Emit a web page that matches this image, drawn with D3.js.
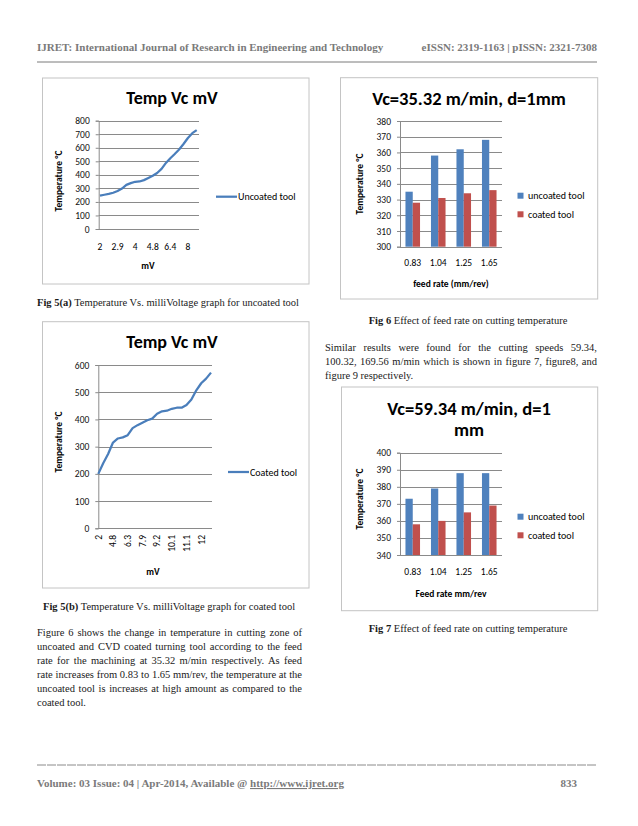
<!DOCTYPE html>
<html>
<head>
<meta charset="utf-8">
<script src="https://cdn.jsdelivr.net/npm/d3@7"></script>
<style>
  body { margin: 0; background: #fff; }
  svg { display: block; }
</style>
</head>
<body>
<script>
// Fig 5(a) - uncoated tool, temperature along the mV readings
var uncoatedTemp = [246, 253, 259, 268, 281, 299, 326, 339, 349, 351, 361, 377,
  393, 414, 444, 488, 523, 554, 587, 628, 672, 708, 730];
var mvLabelsA = ["2", "2.9", "4", "4.8", "6.4", "8"];   // every 4th point labelled
// Fig 5(b) - coated tool
var coatedTemp = [200, 239, 273, 315, 330, 334, 342, 368, 379, 388, 397, 403,
  421, 430, 432, 439, 443, 443, 453, 473, 507, 533, 550, 572];
var mvLabelsB = ["2", "4.8", "6.3", "7.9", "9.2", "10.1", "11.1", "12"]; // every 3rd point
// Fig 6 / Fig 7 - feed rate bars
var feedRates = ["0.83", "1.04", "1.25", "1.65"];
var uncoated6 = [335, 358, 362, 368];
var coated6 = [328, 331, 334, 336];
var uncoated7 = [373, 379, 388, 388];
var coated7 = [358, 360, 365, 369];
var ticksA = [0, 100, 200, 300, 400, 500, 600, 700, 800];
var ticksB = [0, 100, 200, 300, 400, 500, 600];
var ticks6 = [300, 310, 320, 330, 340, 350, 360, 370, 380];
var ticks7 = [340, 350, 360, 370, 380, 390, 400];

var W = 638, H = 826;
var chartFont = "Carlito, Lato, 'Liberation Sans', sans-serif";
var pageFont = "'Liberation Serif', 'DejaVu Serif', serif";
var gridCol = "#8a8a8a", blue = "#4f81bd", red = "#c0504d", lineBlue = "#4a7ebb";

var svg = d3.select("body").append("svg")
  .attr("width", W)
  .attr("height", H)
  .style("background", "#fff");

// ---------- page text ----------
function pageText(x, y, str, opts) {
  opts = opts || {};
  var t = svg.append("text")
    .attr("x", x).attr("y", y)
    .style("font-family", pageFont)
    .style("font-size", (opts.size || 10.5) + "px")
    .style("fill", opts.fill || "#1a1a1a")
    .style("font-weight", opts.bold ? "bold" : "normal")
    .attr("text-anchor", opts.anchor || "start");
  if (opts.boldPrefix) {
    t.append("tspan").style("font-weight", "bold").text(opts.boldPrefix);
  }
  t.append("tspan").text(str);
  if (opts.width) {
    var w = t.node().getComputedTextLength();
    var full = (opts.boldPrefix || "") + str;
    var n = (full.match(/ /g) || []).length;
    if (n) t.style("word-spacing", ((opts.width - w) / n) + "px");
  }
  return t;
}

pageText(37, 51, "IJRET: International Journal of Research in Engineering and Technology",
  { bold: true, fill: "#7a7a7a", size: 11 });
pageText(597, 51, "eISSN: 2319-1163 | pISSN: 2321-7308",
  { bold: true, fill: "#7a7a7a", size: 11, anchor: "end" });
svg.append("line").attr("x1", 37).attr("x2", 597).attr("y1", 62).attr("y2", 62)
  .style("stroke", "#7a7a7a").style("stroke-width", 1);

svg.append("line").attr("x1", 37).attr("x2", 597).attr("y1", 765).attr("y2", 765)
  .style("stroke", "#8a8a8a").style("stroke-width", 1).style("stroke-dasharray", "9,1");
pageText(37, 787, "Volume: 03 Issue: 04 | Apr-2014, Available @ ",
  { bold: true, fill: "#7a7a7a", size: 11 })
  .append("tspan").style("text-decoration", "underline").text("http://www.ijret.org");
pageText(577, 787, "833", { bold: true, fill: "#7a7a7a", size: 11, anchor: "end" });

pageText(37, 306, " Temperature Vs. milliVoltage graph for uncoated tool", { boldPrefix: "Fig 5(a)" });
pageText(43, 610, " Temperature Vs. milliVoltage graph for coated tool", { boldPrefix: "Fig 5(b)" });
pageText(468, 324, " Effect of feed rate on cutting temperature", { boldPrefix: "Fig 6", anchor: "middle" });
pageText(468, 632, " Effect of feed rate on cutting temperature", { boldPrefix: "Fig 7", anchor: "middle" });

var leftPara = [
  "Figure 6 shows the change in temperature in cutting zone of",
  "uncoated and CVD coated turning tool according to the feed",
  "rate for the machining at 35.32 m/min respectively. As feed",
  "rate increases from 0.83 to 1.65 mm/rev, the temperature at the",
  "uncoated tool is increases at high amount as compared to the",
  "coated tool."
];
leftPara.forEach(function(s, i) {
  pageText(37, 636 + i * 14, s, { width: i < leftPara.length - 1 ? 265 : null });
});
var rightPara = [
  "Similar results were found for the cutting speeds 59.34,",
  "100.32, 169.56 m/min which is shown in figure 7, figure8, and",
  "figure 9 respectively."
];
rightPara.forEach(function(s, i) {
  pageText(325, 351 + i * 14, s, { width: i < rightPara.length - 1 ? 272 : null });
});

// ---------- chart helpers ----------
function box(x0, y0, x1, y1) {
  svg.append("rect").attr("x", x0).attr("y", y0)
    .attr("width", x1 - x0).attr("height", y1 - y0)
    .style("fill", "#fff").style("stroke", "#c4c4c4").style("stroke-width", 1);
}

function chartText(x, y, str, size, bold, anchor) {
  return svg.append("text").attr("x", x).attr("y", y)
    .attr("text-anchor", anchor || "middle")
    .style("font-family", chartFont)
    .style("font-size", size + "px")
    .style("font-weight", bold ? "bold" : "normal")
    .style("fill", "#000")
    .text(str);
}

function yGrid(y, ticks, x0, x1) {
  var g = svg.append("g");
  g.selectAll("line.grid").data(ticks).enter().append("line")
    .attr("class", "grid")
    .attr("x1", x0).attr("x2", x1)
    .attr("y1", function(d) { return Math.round(y(d)) + 0.5; })
    .attr("y2", function(d) { return Math.round(y(d)) + 0.5; })
    .style("stroke", gridCol).style("stroke-width", 1);
  var ax = svg.append("g").attr("transform", "translate(" + x0 + ",0)")
    .call(d3.axisLeft(y).tickValues(ticks).tickSize(3).tickPadding(6));
  ax.selectAll("path, line").style("stroke", gridCol);
  ax.selectAll("text").style("font-family", chartFont).style("font-size", "9.5px").style("fill", "#111");
}

function yTitle(x, y, str) {
  svg.append("text")
    .attr("transform", "translate(" + x + "," + y + ") rotate(-90)")
    .attr("text-anchor", "middle")
    .attr("dy", "0.35em")
    .style("font-family", chartFont).style("font-size", "9.5px").style("font-weight", "bold")
    .text(str);
}

// ---------- Fig 5(a) ----------
box(42.5, 78, 309, 284);
chartText(172, 104, "Temp Vc mV", 18, true);
var yA = d3.scaleLinear().domain([0, 800]).range([229, 120.7]);
var xA = d3.scalePoint().domain(d3.range(uncoatedTemp.length)).range([100, 196.7]);
yGrid(yA, ticksA, 98.7, 199);
svg.selectAll("text.xa").data(mvLabelsA).enter().append("text")
  .attr("class", "xa")
  .attr("x", function(d, i) { return xA(i * 4); })
  .attr("y", 250)
  .attr("text-anchor", "middle")
  .style("font-family", chartFont).style("font-size", "9.5px")
  .text(function(d) { return d; });
svg.append("path").datum(uncoatedTemp)
  .attr("d", d3.line().x(function(d, i) { return xA(i); }).y(function(d) { return yA(d); }))
  .style("fill", "none").style("stroke", lineBlue).style("stroke-width", 2.25)
  .style("stroke-linejoin", "round");
chartText(148, 269, "mV", 9.5, true);
yTitle(59, 181, "Temperature °C");
svg.append("line").attr("x1", 216).attr("x2", 237).attr("y1", 196.7).attr("y2", 196.7)
  .style("stroke", lineBlue).style("stroke-width", 2.25);
chartText(238, 200, "Uncoated tool", 10, false, "start");

// ---------- Fig 5(b) ----------
box(42.5, 321.7, 309, 588);
chartText(172, 348, "Temp Vc mV", 18, true);
var yB = d3.scaleLinear().domain([0, 600]).range([528.3, 365]);
var xB = d3.scalePoint().domain(d3.range(coatedTemp.length)).range([98.3, 211]);
yGrid(yB, ticksB, 98.3, 212);
svg.selectAll("text.xb").data(mvLabelsB).enter().append("text")
  .attr("class", "xb")
  .attr("transform", function(d, i) { return "translate(" + xB(i * 3) + ",535) rotate(-90)"; })
  .attr("text-anchor", "end")
  .attr("dy", "0.35em")
  .style("font-family", chartFont).style("font-size", "9.5px")
  .text(function(d) { return d; });
svg.append("path").datum(coatedTemp)
  .attr("d", d3.line().x(function(d, i) { return xB(i); }).y(function(d) { return yB(d); }))
  .style("fill", "none").style("stroke", lineBlue).style("stroke-width", 2.25)
  .style("stroke-linejoin", "round");
chartText(153, 575, "mV", 9.5, true);
yTitle(59, 442, "Temperature °C");
svg.append("line").attr("x1", 228).attr("x2", 249).attr("y1", 472).attr("y2", 472)
  .style("stroke", lineBlue).style("stroke-width", 2.25);
chartText(250, 475.5, "Coated tool", 10, false, "start");

// ---------- bar charts ----------
function barChart(cfg) {
  var y = d3.scaleLinear().domain(cfg.domain).range([cfg.yBottom, cfg.yTop]);
  var x = d3.scaleBand().domain(feedRates).range([400, 502]);
  var groupW = x.bandwidth() / 1.75;
  var inner = d3.scaleBand().domain([0, 1]).range([0, groupW]);
  yGrid(y, cfg.ticks, 400, 502);
  var series = [cfg.uncoated, cfg.coated];
  var colors = [blue, red];
  series.forEach(function(vals, s) {
    svg.selectAll("rect.b" + cfg.id + s).data(vals).enter().append("rect")
      .attr("class", "b" + cfg.id + s)
      .attr("x", function(d, i) { return x(feedRates[i]) + (x.bandwidth() - groupW) / 2 + inner(s); })
      .attr("width", inner.bandwidth())
      .attr("y", function(d) { return y(d); })
      .attr("height", function(d) { return cfg.yBottom - y(d); })
      .style("fill", colors[s]);
  });
  svg.selectAll("text.x" + cfg.id).data(feedRates).enter().append("text")
    .attr("class", "x" + cfg.id)
    .attr("x", function(d) { return x(d) + x.bandwidth() / 2; })
    .attr("y", cfg.yBottom + 19.5)
    .attr("text-anchor", "middle")
    .style("font-family", chartFont).style("font-size", "9.5px")
    .text(function(d) { return d; });
  chartText(451, cfg.xTitleY, cfg.xTitle, 9.5, true);
  yTitle(360, cfg.yTitleY, "Temperature °C");
  ["uncoated tool", "coated tool"].forEach(function(lab, s) {
    var ly = cfg.legendY[s];
    svg.append("rect").attr("x", 517.5).attr("y", ly - 3).attr("width", 6).attr("height", 6)
      .style("fill", colors[s]);
    chartText(528, ly + 3.3, lab, 10, false, "start");
  });
}

box(340.5, 77.7, 597.7, 299);
chartText(469, 105, "Vc=35.32 m/min, d=1mm", 18.5, true);
barChart({ id: 6, domain: [300, 380], ticks: ticks6, yBottom: 246.7, yTop: 121,
  uncoated: uncoated6, coated: coated6, xTitle: "feed rate (mm/rev)", xTitleY: 286.5,
  yTitleY: 184, legendY: [195.7, 214.3] });

box(341.5, 387, 597.7, 610.7);
chartText(469, 414.5, "Vc=59.34 m/min, d=1", 18.5, true);
chartText(469, 436, "mm", 18.5, true);
barChart({ id: 7, domain: [340, 400], ticks: ticks7, yBottom: 555, yTop: 452.7,
  uncoated: uncoated7, coated: coated7, xTitle: "Feed rate mm/rev", xTitleY: 596.5,
  yTitleY: 499, legendY: [516.7, 535.3] });
</script>
</body>
</html>
